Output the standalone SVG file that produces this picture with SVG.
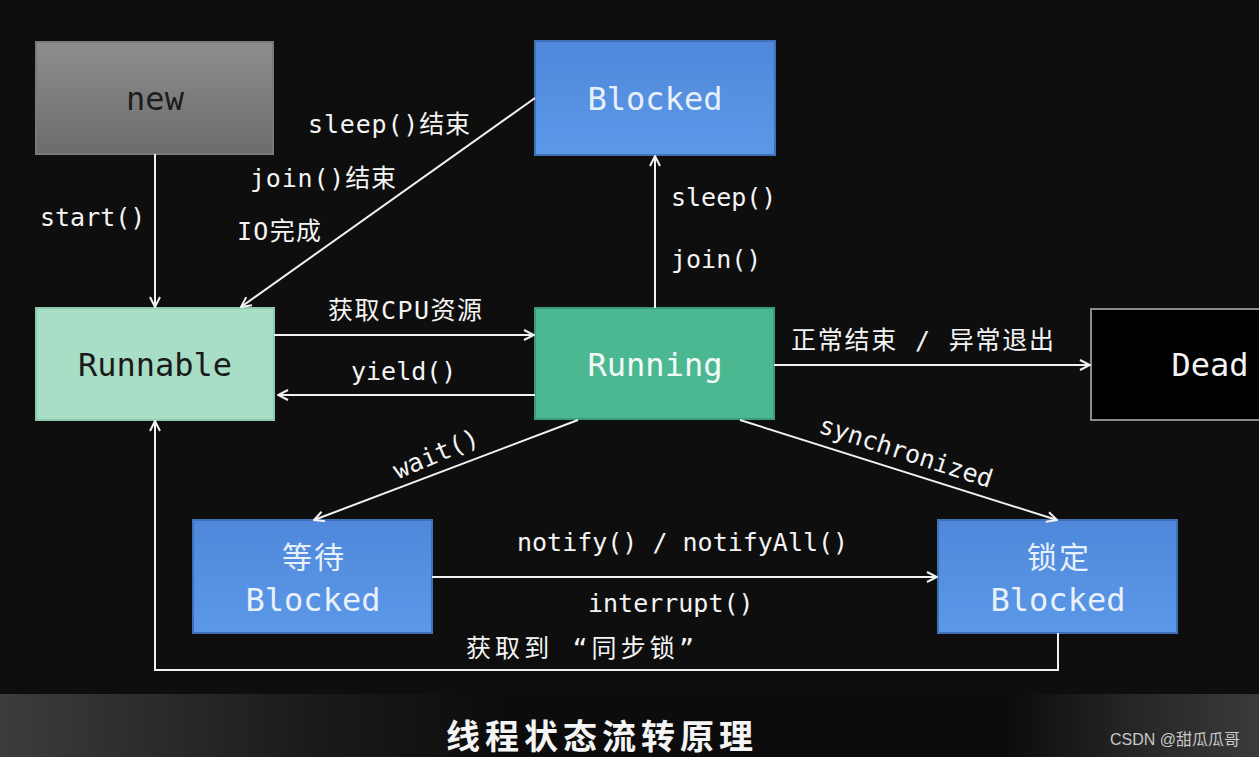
<svg xmlns="http://www.w3.org/2000/svg" width="1259" height="757" viewBox="0 0 1259 757">
  <defs>
    <linearGradient id="gNew" x1="0" y1="0" x2="0" y2="1">
      <stop offset="0" stop-color="#8e8e8e"/>
      <stop offset="1" stop-color="#6c6c6c"/>
    </linearGradient>
    <linearGradient id="gBlue" x1="0" y1="0" x2="0" y2="1">
      <stop offset="0" stop-color="#4f88da"/>
      <stop offset="1" stop-color="#5b98e8"/>
    </linearGradient>
    <linearGradient id="gBand" x1="0" y1="0" x2="1" y2="0">
      <stop offset="0" stop-color="#3c3c3c"/>
      <stop offset="0.25" stop-color="#1a1a1a"/>
      <stop offset="0.4" stop-color="#0c0c0c"/>
      <stop offset="0.8" stop-color="#0c0c0c"/>
      <stop offset="0.9" stop-color="#262626"/>
      <stop offset="1" stop-color="#3a3a3a"/>
    </linearGradient>
    <marker id="arr" viewBox="0 0 12 12" refX="11" refY="6" markerWidth="12" markerHeight="12" markerUnits="userSpaceOnUse" orient="auto">
      <path d="M1,1 L11,6 L1,11" fill="none" stroke="#f2f2f2" stroke-width="2"/>
    </marker>
  </defs>
  <style>
    .bg { fill: #0e0e0e; }
    .box { stroke-width: 2; }
    .blue { fill: url(#gBlue); stroke: #3f70b8; }
    .node-text { font-family: "DejaVu Sans Mono", "Noto Sans CJK SC", monospace; font-size: 32px; text-anchor: middle; dominant-baseline: central; }
    .cjk-node { font-family: "Noto Sans CJK SC", sans-serif; font-size: 30px; text-anchor: middle; dominant-baseline: central; letter-spacing: 2px; }
    .lbl { font-family: "DejaVu Sans Mono", "Noto Sans CJK SC", monospace; font-size: 25px; fill: #f4f4f4; }
    .conn { stroke: #f2f2f2; stroke-width: 2; fill: none; }
  </style>

  <rect class="bg" x="0" y="0" width="1259" height="757"/>
  <rect x="0" y="694" width="1259" height="63" fill="url(#gBand)"/>

  <g id="node-new">
    <rect class="box" x="36" y="42" width="237" height="112" fill="url(#gNew)" stroke="#7a7a7a"/>
    <text class="node-text" x="155" y="99" fill="#1c1c1c">new</text>
  </g>

  <g id="node-blocked">
    <rect class="box blue" x="535" y="41" width="240" height="114"/>
    <text class="node-text" x="655" y="99" fill="#e8f0fc">Blocked</text>
  </g>

  <g id="node-runnable">
    <rect class="box" x="36" y="308" width="238" height="112" fill="#a8dec6" stroke="#8cc9ad"/>
    <text class="node-text" x="155" y="365" fill="#1a1a1a">Runnable</text>
  </g>

  <g id="node-running">
    <rect class="box" x="535" y="308" width="239" height="111" fill="#4cb892" stroke="#3a9c78"/>
    <text class="node-text" x="655" y="365" fill="#f4faf7">Running</text>
  </g>

  <g id="node-dead">
    <rect class="box" x="1091" y="309" width="172" height="111" fill="#000000" stroke="#8a8a8a"/>
    <text class="node-text" x="1210" y="365" fill="#f4f4f4">Dead</text>
  </g>

  <g id="node-waiting">
    <rect class="box blue" x="193" y="520" width="239" height="113"/>
    <text class="cjk-node" x="314" y="555" fill="#e8f0fc">等待</text>
    <text class="node-text" x="313" y="600" fill="#e8f0fc">Blocked</text>
  </g>

  <g id="node-locked">
    <rect class="box blue" x="938" y="520" width="239" height="113"/>
    <text class="cjk-node" x="1059" y="555" fill="#e8f0fc">锁定</text>
    <text class="node-text" x="1058" y="600" fill="#e8f0fc">Blocked</text>
  </g>

  <g id="connectors">
    <line class="conn" x1="155" y1="154" x2="155" y2="307" marker-end="url(#arr)"/>
    <line class="conn" x1="535" y1="98" x2="241" y2="307" marker-end="url(#arr)"/>
    <line class="conn" x1="274" y1="335" x2="534" y2="335" marker-end="url(#arr)"/>
    <line class="conn" x1="535" y1="395" x2="278" y2="395" marker-end="url(#arr)"/>
    <line class="conn" x1="655" y1="308" x2="655" y2="156" marker-end="url(#arr)"/>
    <line class="conn" x1="774" y1="365" x2="1090" y2="365" marker-end="url(#arr)"/>
    <line class="conn" x1="578" y1="420" x2="314" y2="520" marker-end="url(#arr)"/>
    <line class="conn" x1="740" y1="420" x2="1057" y2="520" marker-end="url(#arr)"/>
    <line class="conn" x1="432" y1="577" x2="937" y2="577" marker-end="url(#arr)"/>
    <polyline class="conn" points="1058,633 1058,670 155,670 155,421" marker-end="url(#arr)"/>
  </g>

  <g id="labels">
    <text class="lbl" x="308" y="133" textLength="162" lengthAdjust="spacing">sleep()结束</text>
    <text class="lbl" x="250" y="187" textLength="146" lengthAdjust="spacing">join()结束</text>
    <text class="lbl" x="237" y="240" textLength="84" lengthAdjust="spacing">IO完成</text>
    <text class="lbl" x="40" y="226">start()</text>
    <text class="lbl" x="328" y="319" textLength="154" lengthAdjust="spacing">获取CPU资源</text>
    <text class="lbl" x="351" y="380">yield()</text>
    <text class="lbl" x="671" y="206">sleep()</text>
    <text class="lbl" x="671" y="268">join()</text>
    <text class="lbl" x="791" y="349" textLength="263" lengthAdjust="spacing">正常结束 / 异常退出</text>
    <text class="lbl" transform="translate(436,454) rotate(-23)" text-anchor="middle" dominant-baseline="central">wait()</text>
    <text class="lbl" transform="translate(906,452) rotate(18)" text-anchor="middle" dominant-baseline="central">synchronized</text>
    <text class="lbl" x="517" y="551">notify() / notifyAll()</text>
    <text class="lbl" x="588" y="612">interrupt()</text>
    <text class="lbl" x="466" y="657" textLength="228" lengthAdjust="spacing">获取到 “同步锁”</text>
  </g>

  <text x="602" y="749" font-family="Noto Sans CJK SC, sans-serif" font-size="34" font-weight="bold" fill="#f4f4f4" text-anchor="middle" letter-spacing="5">线程状态流转原理</text>
  <text x="1175" y="745" font-family="Liberation Sans, Noto Sans CJK SC, sans-serif" font-size="16" fill="#c8c8c8" text-anchor="middle">CSDN @甜瓜瓜哥</text>
</svg>
